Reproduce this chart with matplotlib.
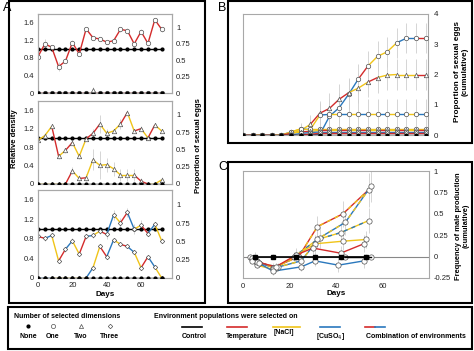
import numpy as np
import matplotlib.pyplot as plt
from matplotlib.patches import Rectangle
from matplotlib.lines import Line2D

plt.rcParams['font.family'] = ['Liberation Sans', 'DejaVu Sans']

W, H = 474, 351
RED = '#d42b2b'
YEL = '#f0c419'
BLU = '#2a78bd'
FRAME = '#a8a8a8'
ERR = '#cfcfcf'
EDGE = '#505050'

# ---- panel A data (days, relative density, proportion of sexual eggs) ----
days_a = [0, 4, 8, 12, 16, 20, 24, 28, 32, 36, 40, 44, 48, 52, 56, 60, 64, 68, 72]

dens_one = [0.83, 1.12, 1.04, 0.60, 0.73, 1.15, 0.89, 1.46, 1.26, 1.23, 1.16, 1.19,
            1.45, 1.42, 1.12, 1.40, 1.13, 1.67, 1.45]
eggs_one = [0] * 19
dens_one_err = [0.05, 0.1, 0.05, 0.1, 0.05, 0.05, 0.05, 0.05, 0.05, 0.05, 0.05, 0.05,
                0.05, 0.05, 0.05, 0.05, 0.05, 0.05, 0.05]
cols_one = ['r'] * 18

dens_two = [0.95, 1.05, 1.25, 0.60, 0.73, 0.90, 0.60, 0.98, 1.10, 1.30, 1.10, 1.15,
            1.30, 1.55, 1.15, 1.20, 1.00, 1.28, 1.15]
eggs_two = [0, 0, 0, 0, 0, 0.19, 0.08, 0.09, 0.35, 0.27, 0.28, 0.22, 0.13, 0.13,
            0.13, 0.04, 0, 0, 0.06]
dens_two_err = [0.05, 0.05, 0.05, 0.05, 0.05, 0.05, 0.05, 0.05, 0.1, 0.2, 0.1, 0.05,
                0.1, 0.05, 0.05, 0.05, 0.05, 0.05, 0.05]
eggs_two_err = [0, 0, 0, 0, 0, 0.05, 0.05, 0.05, 0.15, 0.2, 0.1, 0.1, 0.08, 0.08,
                0.08, 0.04, 0, 0, 0.04]
cols_two = ['y', 'y', 'r', 'y', 'r', 'y', 'y', 'r', 'r', 'y', 'y', 'y', 'r', 'y', 'r', 'y', 'r', 'y']
cols_two_e = ['y', 'y', 'y', 'y', 'r', 'y', 'r', 'y', 'y', 'y', 'y', 'y', 'y', 'y', 'r', 'r', 'y', 'y']

dens_three = [0.85, 0.81, 0.87, 0.35, 0.59, 0.76, 0.49, 0.85, 0.87, 0.96, 0.89, 1.29,
              1.13, 1.34, 1.00, 1.08, 0.91, 1.10, 0.76]
eggs_three = [0, 0, 0, 0, 0, 0, 0, 0, 0.14, 0.43, 0.29, 0.52, 0.46, 0.43, 0.35, 0.14,
              0.29, 0.15, 0]
dens_three_err = [0.05, 0.05, 0.05, 0.05, 0.05, 0.05, 0.05, 0.05, 0.05, 0.05, 0.1, 0.1,
                  0.1, 0.1, 0.1, 0.1, 0.05, 0.05, 0.05]
cols_three = ['r', 'b', 'y', 'r', 'b', 'y', 'r', 'b', 'y', 'r', 'b', 'y', 'r', 'b', 'y', 'r', 'b', 'y']
cols_three_e = ['b', 'b', 'y', 'y', 'y', 'y', 'y', 'b', 'y', 'r', 'b', 'y', 'r', 'b', 'y', 'r', 'b', 'y']

control_days = [0, 4, 8, 12, 16, 20, 24, 28, 32, 36, 40, 44, 48, 52, 56, 60, 64, 68, 72]

# ---- panel B data (cumulative proportion of sexual eggs) ----
days_b = [0, 4, 8, 12, 16, 20, 24, 28, 32, 36, 40, 44, 48, 52, 56, 60, 64, 68, 72, 76]
b_high = [0, 0, 0, 0, 0, 0, 0, 0, 0.02, 0.62, 0.9, 1.35, 1.85, 2.28, 2.6, 2.75, 3.05, 3.2, 3.2, 3.2]
b_high_c = ['r', 'y', 'r', 'y', 'r', 'y', 'r', 'b', 'b', 'b', 'b', 'b', 'r', 'y', 'y', 'y', 'b', 'b', 'r']
b_tri = [0, 0, 0, 0, 0, 0.05, 0.15, 0.35, 0.72, 0.88, 1.18, 1.4, 1.55, 1.75, 1.9, 1.98, 2.0, 2.0, 2.0, 2.0]
b_tri_c = ['y', 'r', 'y', 'r', 'y', 'y', 'y', 'r', 'r', 'r', 'r', 'y', 'y', 'r', 'y', 'y', 'y', 'y', 'r']
b_mid = [0, 0, 0, 0, 0, 0.1, 0.2, 0.18, 0.66, 0.68, 0.68, 0.68, 0.68, 0.68, 0.68, 0.68, 0.68, 0.68, 0.68, 0.68]
b_mid_c = ['b', 'y', 'b', 'y', 'b', 'y', 'b', 'y', 'b', 'y', 'b', 'y', 'b', 'y', 'b', 'y', 'b', 'y', 'b']
b_low1 = [0, 0, 0, 0, 0, 0.1, 0.2, 0.2, 0.2, 0.2, 0.2, 0.2, 0.2, 0.2, 0.2, 0.2, 0.2, 0.2, 0.2, 0.2]
b_low2 = [0, 0, 0, 0, 0, 0.05, 0.1, 0.12, 0.15, 0.15, 0.15, 0.15, 0.15, 0.15, 0.15, 0.15, 0.15, 0.15, 0.15, 0.15]
b_low3 = [0, 0, 0, 0, 0, 0, 0.05, 0.08, 0.1, 0.1, 0.1, 0.1, 0.1, 0.1, 0.1, 0.1, 0.1, 0.1, 0.1, 0.1]
b_low4 = [0, 0, 0, 0, 0, 0, 0, 0.03, 0.05, 0.05, 0.05, 0.05, 0.05, 0.05, 0.05, 0.05, 0.05, 0.05, 0.05, 0.05]
b_err = [0, 0, 0, 0, 0, 0.1, 0.2, 0.3, 0.4, 0.5, 0.5, 0.5, 0.5, 0.5, 0.5, 0.5, 0.5, 0.5, 0.5, 0.5]

# ---- panel C data (cumulative frequency of male production) ----
c_series = [
    # days, values, errors, colour(s), style
    ([3, 6, 13, 24, 32, 43, 54], [0.0, -0.05, -0.13, 0.0, 0.35, 0.5, 0.78],
     [0.03, 0.03, 0.05, 0.05, 0.12, 0.15, 0.2], ('r', 'y'), 'dash'),
    ([4, 7, 14, 25, 33, 44, 55], [-0.03, -0.08, -0.13, -0.05, 0.22, 0.4, 0.82],
     [0.03, 0.03, 0.05, 0.08, 0.12, 0.15, 0.18], ('b', 'y'), 'dash'),
    ([5, 6, 15, 23, 32, 42, 54], [-0.05, -0.07, -0.12, 0.02, 0.2, 0.28, 0.42],
     [0.03, 0.03, 0.05, 0.08, 0.1, 0.12, 0.15], ('y', 'b'), 'dash'),
    ([4, 6, 13, 22, 31, 43, 53], [-0.02, -0.1, -0.15, 0.0, 0.15, 0.18, 0.2],
     [0.03, 0.03, 0.05, 0.05, 0.1, 0.1, 0.1], ('y',), 'solid'),
    ([5, 6, 14, 23, 30, 42, 52], [-0.02, -0.06, -0.12, 0.02, 0.1, 0.04, 0.15],
     [0.03, 0.03, 0.05, 0.05, 0.08, 0.08, 0.1], ('r',), 'solid'),
    ([4, 7, 13, 25, 31, 41, 52], [-0.05, -0.08, -0.17, -0.12, -0.05, -0.1, -0.05],
     [0.03, 0.03, 0.05, 0.05, 0.06, 0.08, 0.08], ('b',), 'solid'),
]
c_ctrl_days = [5, 13, 23, 31, 42, 53]
c_ctrl_vals = [0, 0, 0, 0, 0, 0]
c_ctrl_err = [0.05, 0.03, 0.03, 0.05, 0.03, 0.03]
c_black_days = [44, 55]
c_black_vals = [0, 0]

CMAP = {'r': RED, 'y': YEL, 'b': BLU}


def rect(l, t, r, b):
    return [l / W, 1 - b / H, (r - l) / W, (b - t) / H]


def style_axes(ax, size=5.5, pad=3):
    for s in ax.spines.values():
        s.set_color(FRAME)
        s.set_linewidth(0.8)
    ax.tick_params(length=0, labelsize=size, pad=pad, colors='#222222')


def seg_line(ax, x, y, cols, lw=1.0):
    for i in range(len(x) - 1):
        ax.plot(x[i:i + 2], y[i:i + 2], color=CMAP[cols[i % len(cols)]], lw=lw,
                solid_capstyle='butt', zorder=3)


def markers(ax, x, y, m, ms=3.2):
    ax.plot(x, y, ls='none', marker=m, ms=ms, mfc='white', mec=EDGE, mew=0.5, zorder=4)


def ebars(ax, x, y, e):
    ax.errorbar(x, y, yerr=e, fmt='none', ecolor=ERR, elinewidth=0.6, zorder=2)


fig = plt.figure(figsize=(W / 100, H / 100), dpi=100)

# outer boxes
for (l, t, r, b) in [(9, 1, 205, 303), (228, 1, 472, 143), (228, 162, 472, 303), (8, 307, 472, 349)]:
    fig.add_artist(Rectangle((l / W, 1 - b / H), (r - l) / W, (b - t) / H,
                             transform=fig.transFigure, fill=False, ec='black', lw=1.5))

# ---- panel A ----
a_rows = [
    ((38, 14, 172, 93), dens_one, dens_one_err, cols_one, eggs_one, None, cols_one, 'o'),
    ((38, 101, 172, 184), dens_two, dens_two_err, cols_two, eggs_two, eggs_two_err, cols_two_e, '^'),
    ((38, 190, 172, 278), dens_three, dens_three_err, cols_three, eggs_three, None, cols_three_e, 'D'),
]
for i, (pos, dens, derr, dcol, eggs, eerr, ecol, mk) in enumerate(a_rows):
    ax = fig.add_axes(rect(*pos))
    ax2 = ax.twinx()
    ms = 2.3 if mk == 'D' else 3.2
    ebars(ax, days_a, dens, derr)
    if eerr is not None:
        ebars(ax2, days_a, eggs, eerr)
    ax.plot(control_days, [1] * len(control_days), color='black', lw=1.0, marker='o', ms=2,
            zorder=3)
    seg_line(ax, days_a, dens, dcol)
    markers(ax, days_a, dens, mk, ms)
    seg_line(ax2, days_a, eggs, ecol)
    ax2.plot(control_days, [0] * len(control_days), color='black', lw=1.0, marker='o', ms=2,
             zorder=5)
    markers(ax2, days_a, eggs, mk, ms)
    if i == 0:
        ax2.errorbar([32], [0.05], yerr=[0.04], fmt='^', ms=3, mfc='white', mec=EDGE,
                     mew=0.5, ecolor=ERR, elinewidth=0.6, zorder=6)
    ax.set_xlim(0, 78)
    ax.set_ylim(0, 1.8)
    ax2.set_ylim(0, 1.2)
    ax.set_yticks([0, 0.4, 0.8, 1.2, 1.6])
    ax.set_yticklabels(['0', '0.4', '0.8', '1.2', '1.6'])
    ax2.set_yticks([0, 0.25, 0.5, 0.75, 1])
    ax2.set_yticklabels(['0', '0.25', '0.5', '0.75', '1'])
    style_axes(ax)
    style_axes(ax2)
    if i == 2:
        ax.set_xticks([0, 20, 40, 60])
        ax.set_xlabel('Days', fontsize=5.8, fontweight='bold', labelpad=1)
    else:
        ax.set_xticks([])

fig.text(15 / W, 1 - 139 / H, 'Relative density', rotation=90, ha='center', va='center',
         fontsize=5.6, fontweight='bold')
fig.text(199 / W, 1 - 146 / H, 'Proportion of sexual eggs', rotation=90, ha='center',
         va='center', fontsize=5.6, fontweight='bold')

# ---- panel B ----
axb = fig.add_axes(rect(243, 14, 428, 135))
for vals in [b_high, b_tri, b_mid]:
    ebars(axb, days_b, vals, b_err)
seg_line(axb, days_b, b_high, b_high_c)
markers(axb, days_b, b_high, 'o')
seg_line(axb, days_b, b_tri, b_tri_c)
markers(axb, days_b, b_tri, '^')
seg_line(axb, days_b, b_mid, b_mid_c)
markers(axb, days_b, b_mid, 'o')
seg_line(axb, days_b, b_low1, ['y'])
markers(axb, days_b, b_low1, 'o')
seg_line(axb, days_b, b_low2, ['r', 'y'])
markers(axb, days_b, b_low2, '^')
seg_line(axb, days_b, b_low3, ['b'])
markers(axb, days_b, b_low3, 'o')
seg_line(axb, days_b, b_low4, ['r'])
markers(axb, days_b, b_low4, 'D', 2.3)
axb.plot(days_b, [0] * len(days_b), color='black', lw=1.0, marker='o', ms=2, zorder=5)
axb.set_xlim(0, 77)
axb.set_ylim(0, 4)
axb.set_xticks([])
axb.yaxis.tick_right()
axb.set_yticks([0, 1, 2, 3, 4])
style_axes(axb, 5.8, 4)
fig.text(461 / W, 1 - 72 / H, 'Proportion of sexual eggs\n(cumulative)', rotation=90,
         ha='center', va='center', fontsize=5.9, fontweight='bold', linespacing=1.1)

# ---- panel C ----
axc = fig.add_axes(rect(243, 171, 429, 278))
axc.axhline(0, color='#888888', lw=0.8, zorder=1)
for (d, v, e, cols, style) in c_series:
    ebars(axc, d, v, e)
    if style == 'dash':
        axc.plot(d, v, color=CMAP[cols[0]], lw=1.0, zorder=3)
        axc.plot(d, v, color=CMAP[cols[1]], lw=1.0, ls=(0, (3, 3)), zorder=3)
    else:
        axc.plot(d, v, color=CMAP[cols[0]], lw=1.0, zorder=3)
    markers(axc, d, v, 'o', 3.8)
ebars(axc, c_ctrl_days, c_ctrl_vals, c_ctrl_err)
axc.plot(c_ctrl_days, c_ctrl_vals, color='black', lw=1.2, marker='s', ms=2.5, zorder=5)
axc.plot(c_black_days, c_black_vals, color='black', lw=1.0, zorder=5)
markers(axc, c_black_days, c_black_vals, 'o', 3.8)
axc.set_xlim(0, 80)
axc.set_ylim(-0.25, 1)
axc.set_xticks([0, 20, 40, 60])
axc.yaxis.tick_right()
axc.set_yticks([-0.25, 0, 0.25, 0.5, 0.75, 1])
axc.set_yticklabels(['-0.25', '0', '0.25', '0.5', '0.75', '1'])
style_axes(axc, 5.5, 3.5)
axc.set_xlabel('Days', fontsize=5.8, fontweight='bold', labelpad=0)
fig.text(462 / W, 1 - 226 / H, 'Frequency of male production\n(cumulative)', rotation=90,
         ha='center', va='center', fontsize=5.4, fontweight='bold', linespacing=1.1)

# panel letters
fig.text(3 / W, 1 - 8 / H, 'A', fontsize=9, va='center')
fig.text(218 / W, 1 - 8 / H, 'B', fontsize=9, va='center')
fig.text(218 / W, 1 - 167 / H, 'C', fontsize=9, va='center')

# ---- legend ----
LF = 5.0
fig.text(14 / W, 1 - 317 / H, 'Number of selected dimensions', fontsize=LF,
         fontweight='bold', va='center')
for x, m, ms, lab in [(28, 'o', 2.0, 'None'), (53, 'o', 3.0, 'One'), (81, '^', 3.0, 'Two'),
                      (110, 'D', 2.3, 'Three')]:
    if lab == 'None':
        fig.add_artist(Line2D([x / W], [1 - 326 / H], marker=m, ms=ms, color='black',
                              transform=fig.transFigure))
    else:
        fig.add_artist(Line2D([x / W], [1 - 326 / H], marker=m, ms=ms, mfc='white',
                              mec=EDGE, mew=0.5, transform=fig.transFigure))
    fig.text(x / W, 1 - 336 / H, lab, fontsize=LF, fontweight='bold', ha='center',
             va='center')

fig.text(154 / W, 1 - 317 / H, 'Environment populations were selected on', fontsize=LF,
         fontweight='bold', va='center')
env = [(182, 202, ['black'], 'Control', 194, 336),
       (227, 247, [RED], 'Temperature', 247, 336),
       (273, 300, [YEL], '[NaCl]', 284, 333),
       (320, 340, [BLU], '[CuSO$_4$]', 331, 337),
       (365, 385, [RED, BLU], 'Combination of environments', 416, 336)]
for (x0, x1, cols, lab, tx, ty) in env:
    if len(cols) == 1:
        fig.add_artist(Line2D([x0 / W, x1 / W], [1 - 327 / H] * 2, color=cols[0], lw=1.2,
                              transform=fig.transFigure))
    else:
        xm = (x0 + x1) / 2
        fig.add_artist(Line2D([x0 / W, xm / W], [1 - 327 / H] * 2, color=cols[0], lw=1.2,
                              transform=fig.transFigure))
        fig.add_artist(Line2D([xm / W, x1 / W], [1 - 327 / H] * 2, color=cols[1], lw=1.2,
                              transform=fig.transFigure))
    fig.text(tx / W, 1 - ty / H, lab, fontsize=LF, fontweight='bold', ha='center',
             va='center')

fig.savefig('out.png', dpi=100)
